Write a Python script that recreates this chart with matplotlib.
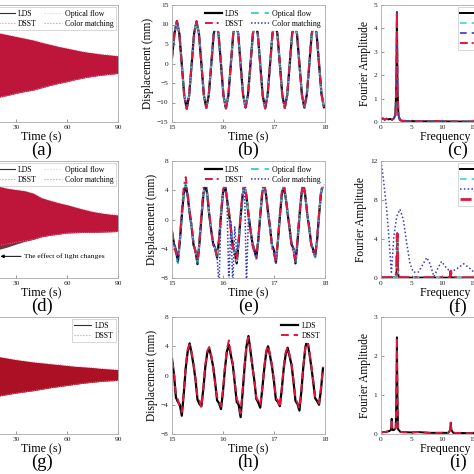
import numpy as np
import matplotlib
matplotlib.use("Agg")
import matplotlib.pyplot as plt
from matplotlib.lines import Line2D

plt.rcParams['font.family'] = ['Liberation Serif', 'DejaVu Serif']
plt.rcParams['axes.unicode_minus'] = True

# ---------------- data ----------------
# long records (a), (d), (g): envelope of the dense oscillation band
env_t = [15, 20, 25, 30, 35, 40, 45, 50, 55, 60, 65, 70, 75, 80, 85, 90]
a_upper = [11.0, 10.4, 9.8, 9.2, 8.6, 8.0, 7.2, 6.5, 5.8, 5.2, 4.6, 4.0, 3.6, 3.2, 2.9, 2.6]
a_lower = [-11.8, -11.5, -10.9, -10.2, -9.6, -9.1, -8.3, -7.5, -6.8, -6.2, -5.5, -4.9, -4.4, -4.0, -3.7, -3.4]
d_upper = [12.0, 11.3, 10.6, 10.2, 9.8, 9.0, 7.4, 6.5, 5.7, 5.0, 4.2, 3.4, 2.7, 2.2, 1.8, 1.5]
d_lower = [-9.5, -8.8, -8.3, -7.8, -7.3, -6.8, -5.9, -5.4, -5.0, -4.6, -4.5, -4.4, -4.4, -4.3, -4.2, -4.1]
d_lds_lower = [-10.6, -10.2, -9.4, -8.4, -7.5, -6.8, -5.9, -5.4, -5.0, -4.6, -4.5, -4.4, -4.4, -4.3, -4.2, -4.1]
g_upper = [7.0, 6.4, 5.9, 5.4, 5.0, 4.6, 4.3, 4.0, 3.7, 3.4, 3.1, 2.9, 2.7, 2.4, 2.2, 2.0]
g_lower = [-7.6, -7.0, -6.5, -6.0, -5.6, -5.2, -4.7, -4.2, -3.8, -3.4, -3.0, -2.6, -2.3, -2.0, -1.8, -1.7]

# (b) zoomed record 15-18 s
t_b = np.linspace(15.0, 17.98, 63)
lds_b = [1.5,
         7.7, 10.9, 7.6, -0.3, -8.2, -11.6, -8.2, -0.3,
         7.6, 10.8, 7.6, -0.2, -8.1, -11.4, -8.1, -0.3,
         7.5, 10.6, 7.5, -0.3, -8.2, -11.5, -8.2, -0.2,
         7.7, 10.9, 7.7, -0.3, -8.0, -11.3, -8.0, -0.3,
         7.6, 10.7, 7.6, -0.3, -8.2, -11.5, -8.1, -0.2,
         7.6, 10.8, 7.6, -0.2, -8.1, -11.4, -8.1, -0.3,
         7.5, 10.6, 7.5, -0.3, -8.0, -11.3, -8.0, -0.3,
         7.6, 10.8, 7.6, -0.2, -7.9, -11.2]
dsst_b = lds_b
optical_b = lds_b
color_b = lds_b

# (e) zoomed record with light changes
t_e = np.linspace(15.0, 17.96, 78)
lds_e = [-1.7, -3.3, -4.2, -5.8, -3.0, 0.5, 3.5,
         4.7, 3.2, 0.9, -1.0, -3.5, -4.3, -6.1, -3.2, 0.2, 3.4,
         5.0, 3.4, 0.6, -1.5, -3.3, -3.9, -5.2, -2.8, 0.6, 3.6,
         4.8, 2.9, 1.0, -1.2, -3.6, -4.4, -6.0, -3.1, 0.4, 3.2,
         4.6, 3.1, 0.7, -1.4, -3.2, -4.1, -5.3, -2.9, 0.5, 3.5,
         4.9, 3.3, 0.9, -1.1, -3.5, -4.2, -5.9, -3.0, 0.3, 3.4,
         4.6, 3.0, 0.8, -1.3, -3.4, -4.0, -6.0, -3.1, 0.4, 3.3,
         4.8, 3.2, 0.7, -1.2, -3.3, -4.1, -5.1, -2.9, 0.6, 3.6,
         4.7]
dsst_e = [-1.5, -3.6, -4.6, -5.0, -2.5, 1.2, 4.5,
          5.8, 3.5, 1.2, -0.8, -3.2, -4.6, -5.6, -2.8, 0.8, 4.2,
          6.0, 3.6, 0.9, -1.3, -3.6, -4.2, -4.9, -2.5, 1.0, 4.0,
          5.0, 3.1, 1.3, -1.0, -3.9, -4.6, -5.5, -2.7, 0.9, 3.9,
          5.1, 3.3, 0.9, -1.2, -3.5, -4.5, -5.0, -2.6, 0.9, 3.9,
          5.0, 3.4, 1.1, -0.9, -3.8, -4.8, -5.6, -2.7, 0.7, 3.8,
          5.0, 3.2, 1.0, -1.1, -3.7, -4.3, -5.4, -2.7, 0.8, 3.7,
          5.1, 3.4, 0.9, -1.0, -3.6, -4.5, -4.8, -2.6, 0.9, 3.9,
          4.9]
optical_e = [-1.6, -3.4, -4.5, -6.0, -3.2, 0.4, 3.6,
             4.9, 3.3, 1.0, -0.9, -3.4, -4.4, -5.9, -3.0, 0.3, 3.6,
             5.2, 3.3, 0.7, -1.4, -3.4, -4.0, -5.3, -2.9, 0.5, 3.7,
             4.9, 3.0, 1.1, -1.1, -3.5, -4.5, -5.7, -3.0, 0.5, 3.3,
             4.7, 3.2, 0.8, -1.3, -3.3, -4.2, -5.4, -2.8, 0.6, 3.6,
             4.9, 3.2, 1.0, -1.0, -3.6, -4.3, -5.8, -3.1, 0.4, 3.5,
             4.7, 3.1, 0.9, -1.2, -3.5, -4.1, -5.8, -3.0, 0.5, 3.4,
             4.9, 3.3, 0.8, -1.1, -3.4, -4.2, -5.2, -3.0, 0.7, 3.7,
             4.8]
color_e = [-1.7, -3.3, -4.2, -5.8, -3.0, 0.5, 3.5,
           4.7, 3.2, 0.9, -1.0, -3.5, -4.3, -6.1, -3.2, 0.2, 3.4,
           5.0, 3.4, 0.6, -1.5, -3.3, -3.9, -5.2, -9.0, 0.6, 3.6,
           4.8, 2.9, -9.0, -0.3, -9.0, -1.0, -4.5, -3.1, 0.4, 3.2,
           4.6, -9.0, 0.7, -1.4, -3.2, -4.1, -5.3, -2.9, 0.5, 3.5,
           4.9, 3.3, 0.9, -1.1, -3.5, -4.2, -5.9, -3.0, 0.3, 3.4,
           4.6, 3.0, 0.8, -1.3, -3.4, -4.0, -6.0, -3.1, 0.4, 3.3,
           4.8, 3.2, 0.7, -1.2, -3.3, -4.1, -5.1, -2.9, 0.6, 3.6,
           4.7]

# (h) zoomed record, second test
t_h = np.linspace(15.0, 17.96, 78)
lds_h = [2.3, 0.2, -3.0, -3.6, -4.0, -5.5, -2.5, 1.0, 3.3,
         4.4, 3.0, 1.4, -0.6, -3.3, -3.9, -4.2, -1.8, 1.2, 3.1,
         3.7, 2.6, 1.2, -0.9, -3.4, -3.8, -4.6, -2.2, 0.9, 3.3,
         4.2, 2.8, 1.5, -1.0, -3.6, -4.0, -5.7, -2.4, 1.1, 4.0,
         5.4, 3.4, 1.3, -0.7, -3.2, -3.7, -4.4, -2.0, 0.8, 3.0,
         4.0, 2.7, 1.2, -0.8, -3.3, -3.6, -4.2, -1.9, 1.0, 2.9,
         3.8, 2.6, 1.4, -0.9, -3.5, -3.9, -4.8, -2.1, 1.2, 3.8,
         5.0, 3.2, 1.3, -0.8, -3.1, -3.5, -4.0, -1.9, 1.0]
dsst_h = [2.0, 0.5, -2.8, -3.3, -4.4, -5.0, -2.2, 1.4, 3.6,
          4.2, 3.2, 1.6, -0.4, -3.0, -3.4, -4.4, -1.6, 1.5, 3.4,
          3.9, 2.8, 1.0, -1.2, -2.9, -3.6, -4.2, -2.0, 1.2, 3.6,
          4.8, 3.0, 1.7, -0.8, -3.2, -3.8, -5.2, -2.2, 1.4, 4.2,
          5.2, 3.5, 1.1, -0.5, -3.0, -3.5, -4.1, -1.8, 1.0, 3.4,
          4.1, 2.9, 1.5, -0.6, -3.1, -3.4, -4.4, -1.7, 1.3, 3.2,
          3.9, 2.8, 1.6, -0.7, -3.2, -3.7, -4.5, -1.9, 1.4, 3.9,
          4.8, 3.4, 1.5, -0.6, -2.9, -3.3, -3.8, -1.7, 1.2]

# Fourier spectra
freq_c = [0, 0.3, 0.6, 0.9, 1.2, 1.5, 1.8, 2.1, 2.35, 2.5, 2.6, 2.7, 2.85, 3.1, 3.5, 4.5, 6, 8, 10, 12, 15, 18, 21, 25]
amp_c = [0.12, 0.15, 0.10, 0.14, 0.11, 0.13, 0.10, 0.15, 0.30, 1.5, 4.7, 1.4, 0.30, 0.08, 0.05, 0.04, 0.03, 0.03, 0.03, 0.02, 0.02, 0.02, 0.02, 0.02]

freq_f = [0, 0.5, 1.0, 1.5, 2.0, 2.4, 2.55, 2.65, 2.75, 2.9, 3.5, 5, 8, 11, 11.3, 11.4, 11.5, 11.8, 15, 20, 25]
lds_f = [0.05, 0.04, 0.05, 0.05, 0.06, 0.10, 0.6, 4.6, 0.6, 0.10, 0.05, 0.04, 0.04, 0.04, 0.08, 0.35, 0.08, 0.04, 0.03, 0.03, 0.03]
dsst_f = [0.05, 0.04, 0.05, 0.05, 0.06, 0.10, 0.6, 4.5, 0.6, 0.10, 0.05, 0.04, 0.04, 0.04, 0.10, 0.70, 0.10, 0.04, 0.03, 0.03, 0.03]
freq_f_color = [0, 0.38, 0.82, 1.2, 1.47, 1.7, 2.1, 2.56, 3.1, 3.64, 4.2, 4.74, 5.28, 6.1, 6.9, 7.47, 8.0, 8.66, 9.37, 9.9, 10.6, 11.4, 12.4, 13.5, 14.3, 15.2, 16.5, 17.5, 19, 21, 25]
color_f = [12.0, 10.2, 7.7, 4.95, 2.5, 0.6, 4.25, 6.3, 7.05, 6.0, 3.6, 1.46, 0.6, 0.6, 1.46, 2.1, 1.46, 0.14, 1.1, 1.7, 1.1, 0.6, 0.95, 1.46, 1.1, 0.6, 0.9, 0.5, 0.7, 0.4, 0.3]

freq_i = [0, 0.5, 1.0, 1.4, 1.6, 1.7, 1.75, 1.8, 1.9, 2.1, 2.4, 2.5, 2.6, 2.7, 2.8, 3.2, 5, 6, 8, 11, 11.3, 11.4, 11.5, 11.8, 15, 20, 25]
amp_i = [0.04, 0.05, 0.06, 0.08, 0.10, 0.20, 0.39, 0.20, 0.10, 0.10, 0.15, 0.8, 2.48, 0.8, 0.12, 0.05, 0.04, 0.05, 0.03, 0.03, 0.10, 0.29, 0.10, 0.03, 0.02, 0.02, 0.02]

panel_labels = ['(a)', '(b)', '(c)', '(d)', '(e)', '(f)', '(g)', '(h)', '(i)']

# ---------------- styles ----------------
C_LDS = 'black'
C_OPT = '#45D2C6'
C_DSST = '#E0163F'
C_COL = '#3838C2'
C_PINK = '#FF7A9A'
SPINE = '#A8A8A8'

W = 474.0
def pos(left_px, top_px, w_px, h_px):
    return [left_px / W, 1 - (top_px + h_px) / W, w_px / W, h_px / W]

fig = plt.figure(figsize=(4.74, 4.74), dpi=100)
fig.patch.set_facecolor('white')

col_left = [-35, 172, 381]
row_top = [5, 161, 317]
AW, AH = 153, 117

axes = []
for r in range(3):
    for c in range(3):
        ax = fig.add_axes(pos(col_left[c], row_top[r], AW, AH))
        axes.append(ax)

def style(ax):
    for s in ax.spines.values():
        s.set_color(SPINE)
        s.set_linewidth(0.6)
    ax.tick_params(direction='in', length=2, width=0.5, colors='#707070',
                   labelsize=5.3, labelcolor='#222222', pad=2.5)

def labels(ax, xl, yl, tag):
    ax.set_xlabel(xl, fontsize=8.6, labelpad=0.5)
    if yl:
        ax.set_ylabel(yl, fontsize=8.3, labelpad=2)
    ax.text(0.5, -0.245, tag, transform=ax.transAxes, ha='center', va='center', fontsize=13.5)

def leg(ax, handles, names, ncol=1, frame=True, **kw):
    L = ax.legend(handles, names, ncol=ncol, loc='upper right', fontsize=5.6,
                  handlelength=2.2, handletextpad=0.4, columnspacing=1.0,
                  borderpad=0.35, labelspacing=0.25, fancybox=False,
                  framealpha=1, borderaxespad=0.25, **kw)
    L.get_frame().set_linewidth(0.5)
    L.get_frame().set_edgecolor('#C8C8C8' if frame else 'white')
    return L

# ---- long records ----
def band(ax, up, lo, fill, dark_lo=None):
    ax.fill_between(env_t, up, dark_lo if dark_lo is not None else lo, color='#4A0612', lw=0, alpha=0.8)
    ax.fill_between(env_t, up, lo, color=fill, alpha=0.9, lw=0)
    ax.plot(env_t, up, color=C_PINK, lw=0.6, ls=':')
    ax.plot(env_t, lo, color=C_PINK, lw=0.6, ls=':')
    ax.set_xlim(0, 90)
    ax.set_ylim(-20, 20)
    ax.set_xticks([0, 30, 60, 90])
    ax.set_yticks([-20, -10, 0, 10, 20])

h_lds_thin = Line2D([], [], color='#303030', lw=0.8)
h_dsst_thin = Line2D([], [], color=C_PINK, lw=0.8, ls=':')
h_opt_thin = Line2D([], [], color='#9BE8E0', lw=0.8, ls=':')
h_col_thin = Line2D([], [], color='#A0A0A0', lw=0.8, ls=':')

for ax, up, lo, fill, dk in [(axes[0], a_upper, a_lower, '#C8123A', None),
                             (axes[3], d_upper, d_lower, '#C8123A', d_lds_lower),
                             (axes[6], g_upper, g_lower, '#B30C22', None)]:
    style(ax)
    band(ax, up, lo, fill, dk)

leg(axes[0], [h_lds_thin, h_dsst_thin, h_opt_thin, h_col_thin],
    ['LDS', 'DSST', 'Optical flow', 'Color matching'], ncol=2)
leg(axes[3], [h_lds_thin, h_dsst_thin, h_opt_thin, h_col_thin],
    ['LDS', 'DSST', 'Optical flow', 'Color matching'], ncol=2)
leg(axes[6], [h_lds_thin, h_dsst_thin], ['LDS', 'DSST'])
axes[3].annotate('The effect of light changes', xy=(20.8, -12.6), xytext=(35.0, -12.6),
                 fontsize=5.4, va='center', ha='left',
                 arrowprops=dict(arrowstyle='-|>', color='black', lw=0.7, mutation_scale=5,
                                 shrinkA=0.5, shrinkB=0))
for i in (0, 3, 6):
    labels(axes[i], 'Time (s)', None, panel_labels[i])

# ---- zoomed records ----
def four(ax, t, lds, opt, dsst, col):
    l1, = ax.plot(t, lds, color=C_LDS, lw=1.6)
    l2, = ax.plot(t, opt, color=C_OPT, lw=1.4, ls=(0, (4, 3)))
    l4, = ax.plot(t, col, color=C_COL, lw=1.1, ls=(0, (1, 1.2)))
    l3, = ax.plot(t, dsst, color=C_DSST, lw=1.4, ls=(0, (4, 2, 1, 2)))
    return l1, l2, l3, l4

ax = axes[1]; style(ax)
l1, l2, l3, l4 = four(ax, t_b, lds_b, optical_b, dsst_b, color_b)
ax.set_xlim(15, 18); ax.set_ylim(-15, 15)
ax.set_xticks([15, 16, 17, 18]); ax.set_yticks([-15, -10, -5, 0, 5, 10, 15])
leg(ax, [l1, l3, l2, l4], ['LDS', 'DSST', 'Optical flow', 'Color matching'], ncol=2, frame=False)
labels(ax, 'Time (s)', 'Displacement (mm)', panel_labels[1])

ax = axes[4]; style(ax)
l1, l2, l3, l4 = four(ax, t_e, lds_e, optical_e, dsst_e, color_e)
ax.set_xlim(15, 18); ax.set_ylim(-8, 8)
ax.set_xticks([15, 16, 17, 18]); ax.set_yticks([-8, -4, 0, 4, 8])
leg(ax, [l1, l3, l2, l4], ['LDS', 'DSST', 'Optical flow', 'Color matching'], ncol=2, frame=False)
labels(ax, 'Time (s)', 'Displacement (mm)', panel_labels[4])

ax = axes[7]; style(ax)
m1, = ax.plot(t_h, lds_h, color=C_LDS, lw=1.6)
m2, = ax.plot(t_h, dsst_h, color=C_DSST, lw=1.4, ls=(0, (4, 2.5)))
ax.set_xlim(15, 18); ax.set_ylim(-8, 8)
ax.set_xticks([15, 16, 17, 18]); ax.set_yticks([-8, -4, 0, 4, 8])
leg(ax, [m1, m2], ['LDS', 'DSST'], frame=False)
labels(ax, 'Time (s)', 'Displacement (mm)', panel_labels[7])

# ---- spectra ----
ax = axes[2]; style(ax)
s1, = ax.plot(freq_c, amp_c, color=C_LDS, lw=1.4)
s2, = ax.plot(freq_c, amp_c, color=C_OPT, lw=1.2, ls=(0, (4, 3)))
s3, = ax.plot(freq_c, amp_c, color=C_COL, lw=1.2, ls=(0, (4, 3)))
s4, = ax.plot(freq_c, amp_c, color=C_DSST, lw=1.4, ls=(0, (4, 2, 1, 2)))
ax.set_xlim(0, 25); ax.set_ylim(0, 5)
ax.set_xticks([0, 5, 10, 15, 20, 25]); ax.set_yticks([0, 1, 2, 3, 4, 5])
leg(ax, [s1, s2, s3, s4], ['LDS', 'Optical flow', 'Color matching', 'DSST'])
labels(ax, 'Frequency (Hz)', 'Fourier Amplitude', panel_labels[2])

ax = axes[5]; style(ax)
s1, = ax.plot(freq_f, lds_f, color=C_LDS, lw=1.4)
s2, = ax.plot(freq_f, lds_f, color=C_OPT, lw=1.2, ls=(0, (4, 3)))
s3, = ax.plot(freq_f_color, color_f, color=C_COL, lw=1.1, ls=(0, (1, 1.5)))
s4, = ax.plot(freq_f, dsst_f, color=C_DSST, lw=2.0, ls=(0, (4, 2, 1, 2)))
ax.set_xlim(0, 25); ax.set_ylim(0, 12)
ax.set_xticks([0, 5, 10, 15, 20, 25]); ax.set_yticks([0, 4, 8, 12])
leg(ax, [s1, s2, s3, s4], ['LDS', 'Optical flow', 'Color matching', 'DSST'])
labels(ax, 'Frequency (Hz)', 'Fourier Amplitude', panel_labels[5])

ax = axes[8]; style(ax)
s1, = ax.plot(freq_i, amp_i, color=C_LDS, lw=1.4)
s2, = ax.plot(freq_i, amp_i, color=C_DSST, lw=1.3, ls=(0, (4, 2.5)))
ax.set_xlim(0, 25); ax.set_ylim(0, 3)
ax.set_xticks([0, 5, 10, 15, 20, 25]); ax.set_yticks([0, 1, 2, 3])
leg(ax, [s1, s2], ['LDS', 'DSST'])
labels(ax, 'Frequency (Hz)', 'Fourier Amplitude', panel_labels[8])

fig.savefig('out.png', dpi=100, facecolor='white')
